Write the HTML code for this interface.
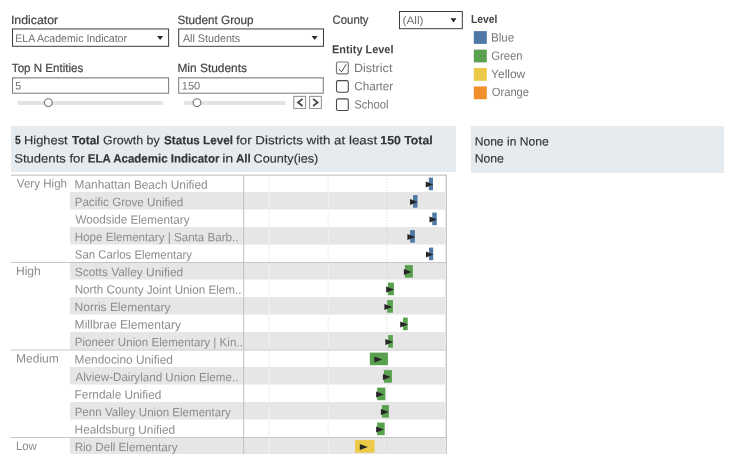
<!DOCTYPE html>
<html><head><meta charset="utf-8">
<style>
html,body{margin:0;padding:0;background:#fff;}
body{width:736px;height:454px;position:relative;overflow:hidden;font-family:"Liberation Sans",sans-serif;font-size:12px;color:#333;}
div,span,svg{position:absolute;white-space:nowrap;}
.t{left:0;top:0;transform-origin:0 0;}
.lbl{color:#444;-webkit-text-stroke:0.2px #444;}
.lblb{color:#444;font-weight:bold;}
.val{color:#6e6e6e;}
.item{color:#777;}
.title{background:#e6ebf0;}
.tt{color:#333;-webkit-text-stroke:0.15px #333;}
.b{font-weight:bold;}
.rw{color:#8c8c8c;}
</style></head><body>

<!-- filters -->
<svg style="left:0;top:0" width="736" height="120" viewBox="0 0 736 120">
<rect x="12.50" y="28.95" width="156.10" height="17.35" fill="#fff" stroke="#3c3c3c" stroke-width="1"/><path d="M157.10 35.90 L163.10 35.90 L160.10 40.00 Z" fill="#2a2a2a"/>
<rect x="178.70" y="28.95" width="144.80" height="17.35" fill="#fff" stroke="#3c3c3c" stroke-width="1"/><path d="M311.60 35.90 L317.60 35.90 L314.60 40.00 Z" fill="#2a2a2a"/>
<rect x="399.50" y="11.50" width="62.80" height="17.20" fill="#fff" stroke="#3c3c3c" stroke-width="1"/><path d="M450.50 18.30 L456.50 18.30 L453.50 22.40 Z" fill="#2a2a2a"/>
<rect x="12.5" y="77.8" width="156.1" height="15.400000000000006" fill="#fff" stroke="#7a7a7a" stroke-width="1"/><rect x="13" y="78.3" width="155.1" height="0.6" fill="#aaa" fill-opacity="0.5"/>
<rect x="178.7" y="77.8" width="144.60000000000002" height="15.400000000000006" fill="#fff" stroke="#7a7a7a" stroke-width="1"/><rect x="179.2" y="78.3" width="143.60000000000002" height="0.6" fill="#aaa" fill-opacity="0.5"/>
<rect x="17.5" y="100.9" width="145.5" height="4" rx="1" fill="#e4e4e4"/><circle cx="48.3" cy="102.6" r="3.9" fill="#fff" stroke="#6e6e6e" stroke-width="1.1"/>
<rect x="184" y="100.9" width="101.80000000000001" height="4" rx="1" fill="#e4e4e4"/><circle cx="197" cy="102.6" r="3.9" fill="#fff" stroke="#6e6e6e" stroke-width="1.1"/>
<rect x="293.8" y="96.4" width="11.800000000000011" height="12.1" fill="#fff" stroke="#999" stroke-width="1.1"/><path d="M302.6 98.9 L298.0 102.45 L302.6 106.0" fill="none" stroke="#484848" stroke-width="1.8"/>
<rect x="309.6" y="96.4" width="11.799999999999955" height="12.1" fill="#fff" stroke="#999" stroke-width="1.1"/><path d="M313.1 98.9 L317.6 102.45 L313.1 106.0" fill="none" stroke="#484848" stroke-width="1.8"/>
<rect x="336.5" y="62.0" width="11.8" height="11.799999999999997" rx="1.6" fill="#fff" stroke="#787878" stroke-width="1.2"/><path d="M338.8 69.0 L341.5 71.8 L346.2 64.4" fill="none" stroke="#444" stroke-width="1"/>
<rect x="336.5" y="80.6" width="11.8" height="11.600000000000009" rx="1.6" fill="#fff" stroke="#4a4a4a" stroke-width="1.1"/>
<rect x="336.5" y="98.9" width="11.8" height="11.599999999999994" rx="1.6" fill="#fff" stroke="#4a4a4a" stroke-width="1.1"/>
<rect x="473.8" y="31.1" width="13" height="12.8" fill="#4e79a7"/>
<rect x="473.8" y="49.6" width="13" height="12.8" fill="#59a14f"/>
<rect x="473.8" y="68.05" width="13" height="12.8" fill="#edc948"/>
<rect x="473.8" y="86.4" width="13" height="12.8" fill="#f28e2b"/>
</svg>
<!-- title boxes -->
<div class="title" style="left:11px;top:126px;width:445px;height:46px;"></div>
<div class="title" style="left:471px;top:126px;width:253px;height:46.5px;"></div>

<!-- chart -->
<svg style="left:0;top:0" width="736" height="454" viewBox="0 0 736 454">
<rect x="70" y="192.0" width="375" height="17.5" fill="#e6e6e6"/>
<rect x="70" y="227.0" width="375" height="17.5" fill="#e6e6e6"/>
<rect x="70" y="262.0" width="375" height="17.5" fill="#e6e6e6"/>
<rect x="70" y="297.0" width="375" height="17.5" fill="#e6e6e6"/>
<rect x="70" y="332.0" width="375" height="17.5" fill="#e6e6e6"/>
<rect x="70" y="367.0" width="375" height="17.5" fill="#e6e6e6"/>
<rect x="70" y="402.0" width="375" height="17.5" fill="#e6e6e6"/>
<rect x="70" y="437.0" width="375" height="17.5" fill="#e6e6e6"/>
<rect x="268.6" y="176" width="1.3" height="278" fill="#f1f1f1" fill-opacity="0.8"/>
<rect x="327.6" y="176" width="1.3" height="278" fill="#f1f1f1" fill-opacity="0.8"/>
<line x1="386.9" y1="176" x2="386.9" y2="454" stroke="#d4d4d4" stroke-width="1" stroke-dasharray="1 1.76"/>
<rect x="11" y="174.6" width="436" height="1.2" fill="#c6c6c6"/>
<rect x="11" y="262" width="436" height="1" fill="#c6c6c6"/>
<rect x="11" y="349.5" width="436" height="1" fill="#c6c6c6"/>
<rect x="11" y="437" width="436" height="1" fill="#c6c6c6"/>
<rect x="243.2" y="175" width="1" height="279" fill="#c0c0c0"/>
<rect x="445.6" y="175" width="1.4" height="279" fill="#c6c6c6"/>
<rect x="428.75" y="177.6" width="4.25" height="12.6" fill="#4e79a7"/>
<path d="M425.75 181.6 L433.25 184.6 L425.75 187.6 Z" fill="#262626"/>
<rect x="413.0" y="195.1" width="4.50" height="12.6" fill="#4e79a7"/>
<path d="M410.0 199.1 L417.75 202.1 L410.0 205.1 Z" fill="#262626"/>
<rect x="432.25" y="212.6" width="4.50" height="12.6" fill="#4e79a7"/>
<path d="M429.5 216.6 L437.0 219.6 L429.5 222.6 Z" fill="#262626"/>
<rect x="410.1" y="230.1" width="4.80" height="12.6" fill="#4e79a7"/>
<path d="M407.4 234.1 L415.2 237.1 L407.4 240.1 Z" fill="#262626"/>
<rect x="429.0" y="247.6" width="4.20" height="12.6" fill="#4e79a7"/>
<path d="M426.0 251.6 L433.5 254.6 L426.0 257.6 Z" fill="#262626"/>
<rect x="404.9" y="265.1" width="8.00" height="12.6" fill="#59a14f"/>
<path d="M403.9 269.1 L411.6 272.1 L403.9 275.1 Z" fill="#262626"/>
<rect x="387.9" y="282.6" width="6.00" height="12.6" fill="#59a14f"/>
<path d="M386.2 286.6 L394.2 289.6 L386.2 292.6 Z" fill="#262626"/>
<rect x="387.2" y="300.1" width="5.70" height="12.6" fill="#59a14f"/>
<path d="M384.4 304.1 L392.2 307.1 L384.4 310.1 Z" fill="#262626"/>
<rect x="403.0" y="317.6" width="4.75" height="12.6" fill="#59a14f"/>
<path d="M400.2 321.6 L408.0 324.6 L400.2 327.6 Z" fill="#262626"/>
<rect x="388.2" y="335.1" width="4.70" height="12.6" fill="#59a14f"/>
<path d="M385.4 339.1 L393.2 342.1 L385.4 345.1 Z" fill="#262626"/>
<rect x="369.8" y="352.6" width="18.10" height="12.6" fill="#59a14f"/>
<path d="M374.4 356.6 L382.4 359.6 L374.4 362.6 Z" fill="#262626"/>
<rect x="383.9" y="370.1" width="8.00" height="12.6" fill="#59a14f"/>
<path d="M382.9 374.1 L390.7 377.1 L382.9 380.1 Z" fill="#262626"/>
<rect x="377.1" y="387.6" width="8.30" height="12.6" fill="#59a14f"/>
<path d="M376.1 391.6 L383.9 394.6 L376.1 397.6 Z" fill="#262626"/>
<rect x="381.9" y="405.1" width="7.00" height="12.6" fill="#59a14f"/>
<path d="M380.9 409.1 L388.9 412.1 L380.9 415.1 Z" fill="#262626"/>
<rect x="377.1" y="422.6" width="7.60" height="12.6" fill="#59a14f"/>
<path d="M376.1 426.6 L383.9 429.6 L376.1 432.6 Z" fill="#262626"/>
<rect x="355.0" y="440.1" width="19.60" height="12.6" fill="#edc948"/>
<path d="M359.8 444.1 L367.8 447.1 L359.8 450.1 Z" fill="#262626"/>
</svg>
<div style="left:0;top:0;width:736px;height:454px;will-change:transform;">
<div class="t lbl" style="font-size:12px;line-height:12px;transform:translate(10.89px,13.95px) rotate(0.03deg) scaleX(1.0269)">Indicator</div>
<div class="t lbl" style="font-size:12px;line-height:12px;transform:translate(177.56px,13.95px) rotate(0.03deg) scaleX(0.9734)">Student Group</div>
<div class="t lbl" style="font-size:12px;line-height:12px;transform:translate(332.60px,13.85px) rotate(0.03deg) scaleX(0.9455)">County</div>
<div class="t lblb" style="font-size:11.5px;line-height:11.5px;transform:translate(471.06px,14.00px) rotate(0.03deg) scaleX(0.8969)">Level</div>
<div class="t lbl" style="font-size:12px;line-height:12px;transform:translate(11.84px,61.95px) rotate(0.03deg) scaleX(0.9654)">Top N Entities</div>
<div class="t lbl" style="font-size:12px;line-height:12px;transform:translate(177.39px,61.95px) rotate(0.03deg) scaleX(0.9941)">Min Students</div>
<div class="t lblb" style="font-size:11.5px;line-height:11.5px;transform:translate(332.07px,44.25px) rotate(0.03deg) scaleX(0.9516)">Entity Level</div>
<div class="t val" style="font-size:11px;line-height:11px;transform:translate(15.20px,32.90px) rotate(0.03deg) scaleX(0.9626)">ELA Academic Indicator</div>
<div class="t val" style="font-size:11px;line-height:11px;transform:translate(182.94px,32.90px) rotate(0.03deg) scaleX(0.9756)">All Students</div>
<div class="t val" style="font-size:11px;line-height:11px;transform:translate(402.53px,15.10px) rotate(0.03deg) scaleX(1.0743)">(All)</div>
<div class="t val" style="font-size:11px;line-height:11px;transform:translate(15.31px,80.60px) rotate(0.03deg) scaleX(0.9605)">5</div>
<div class="t val" style="font-size:11px;line-height:11px;transform:translate(181.84px,80.60px) rotate(0.03deg) scaleX(1.0019)">150</div>
<div class="t item" style="font-size:12px;line-height:12px;transform:translate(353.92px,62.00px) rotate(0.03deg) scaleX(1.0505)">District</div>
<div class="t item" style="font-size:12px;line-height:12px;transform:translate(354.20px,80.20px) rotate(0.03deg) scaleX(0.9742)">Charter</div>
<div class="t item" style="font-size:12px;line-height:12px;transform:translate(354.16px,98.50px) rotate(0.03deg) scaleX(0.9371)">School</div>
<div class="t item" style="font-size:12px;line-height:12px;transform:translate(491.00px,31.40px) rotate(0.03deg) scaleX(0.9668)">Blue</div>
<div class="t item" style="font-size:12px;line-height:12px;transform:translate(491.23px,49.70px) rotate(0.03deg) scaleX(0.9377)">Green</div>
<div class="t item" style="font-size:12px;line-height:12px;transform:translate(491.11px,68.10px) rotate(0.03deg) scaleX(0.9974)">Yellow</div>
<div class="t item" style="font-size:12px;line-height:12px;transform:translate(491.85px,86.40px) rotate(0.03deg) scaleX(0.9287)">Orange</div>
<div class="t tt b" style="font-size:12px;line-height:12px;transform:translate(15.01px,134.20px) rotate(0.03deg) scaleX(0.8562)">5</div>
<div class="t tt" style="font-size:12px;line-height:12px;transform:translate(24.10px,134.20px) rotate(0.03deg) scaleX(1.0703)">Highest</div>
<div class="t tt b" style="font-size:12px;line-height:12px;transform:translate(72.09px,134.20px) rotate(0.03deg) scaleX(0.9888)">Total</div>
<div class="t tt" style="font-size:12px;line-height:12px;transform:translate(103.00px,134.20px) rotate(0.03deg) scaleX(1.0360)">Growth by</div>
<div class="t tt b" style="font-size:12px;line-height:12px;transform:translate(164.00px,134.20px) rotate(0.03deg) scaleX(0.9771)">Status Level</div>
<div class="t tt" style="font-size:12px;line-height:12px;transform:translate(236.07px,134.20px) rotate(0.03deg) scaleX(1.1135)">for Districts with at least</div>
<div class="t tt b" style="font-size:12px;line-height:12px;transform:translate(380.30px,134.20px) rotate(0.03deg) scaleX(1.0236)">150 Total</div>
<div class="t tt" style="font-size:12px;line-height:12px;transform:translate(14.26px,152.50px) rotate(0.03deg) scaleX(1.0880)">Students for</div>
<div class="t tt b" style="font-size:12px;line-height:12px;transform:translate(87.82px,152.50px) rotate(0.03deg) scaleX(0.9596)">ELA Academic Indicator</div>
<div class="t tt" style="font-size:12px;line-height:12px;transform:translate(222.14px,152.50px) rotate(0.03deg) scaleX(1.2000)">in</div>
<div class="t tt b" style="font-size:12px;line-height:12px;transform:translate(236.01px,152.50px) rotate(0.03deg) scaleX(0.9646)">All</div>
<div class="t tt" style="font-size:12px;line-height:12px;transform:translate(253.50px,152.50px) rotate(0.03deg) scaleX(1.0570)">County(ies)</div>
<div class="t tt" style="font-size:12px;line-height:12px;transform:translate(474.65px,135.50px) rotate(0.03deg) scaleX(1.0097)">None in None</div>
<div class="t tt" style="font-size:12px;line-height:12px;transform:translate(474.64px,152.50px) rotate(0.03deg) scaleX(1.0201)">None</div>
<div class="t rw" style="font-size:12px;line-height:12px;transform:translate(16.81px,177.60px) rotate(0.03deg) scaleX(0.9652)">Very High</div>
<div class="t rw" style="font-size:12px;line-height:12px;transform:translate(74.63px,178.60px) rotate(0.03deg) scaleX(0.9870)">Manhattan Beach Unified</div>
<div class="t rw" style="font-size:12px;line-height:12px;transform:translate(74.64px,196.10px) rotate(0.03deg) scaleX(0.9694)">Pacific Grove Unified</div>
<div class="t rw" style="font-size:12px;line-height:12px;transform:translate(75.53px,213.60px) rotate(0.03deg) scaleX(0.9728)">Woodside Elementary</div>
<div class="t rw" style="font-size:12px;line-height:12px;transform:translate(74.65px,231.10px) rotate(0.03deg) scaleX(0.9685)">Hope Elementary | Santa Barb..</div>
<div class="t rw" style="font-size:12px;line-height:12px;transform:translate(74.80px,248.60px) rotate(0.03deg) scaleX(0.9504)">San Carlos Elementary</div>
<div class="t rw" style="font-size:12px;line-height:12px;transform:translate(15.91px,265.10px) rotate(0.03deg) scaleX(1.0073)">High</div>
<div class="t rw" style="font-size:12px;line-height:12px;transform:translate(74.77px,266.10px) rotate(0.03deg) scaleX(0.9929)">Scotts Valley Unified</div>
<div class="t rw" style="font-size:12px;line-height:12px;transform:translate(74.64px,283.60px) rotate(0.03deg) scaleX(0.9737)">North County Joint Union Elem..</div>
<div class="t rw" style="font-size:12px;line-height:12px;transform:translate(74.62px,301.10px) rotate(0.03deg) scaleX(0.9982)">Norris Elementary</div>
<div class="t rw" style="font-size:12px;line-height:12px;transform:translate(74.61px,318.60px) rotate(0.03deg) scaleX(1.0031)">Millbrae Elementary</div>
<div class="t rw" style="font-size:12px;line-height:12px;transform:translate(74.65px,336.10px) rotate(0.03deg) scaleX(0.9670)">Pioneer Union Elementary | Kin..</div>
<div class="t rw" style="font-size:12px;line-height:12px;transform:translate(15.91px,352.60px) rotate(0.03deg) scaleX(1.0057)">Medium</div>
<div class="t rw" style="font-size:12px;line-height:12px;transform:translate(74.63px,353.60px) rotate(0.03deg) scaleX(0.9883)">Mendocino Unified</div>
<div class="t rw" style="font-size:12px;line-height:12px;transform:translate(75.54px,371.10px) rotate(0.03deg) scaleX(0.9689)">Alview-Dairyland Union Eleme..</div>
<div class="t rw" style="font-size:12px;line-height:12px;transform:translate(74.63px,388.60px) rotate(0.03deg) scaleX(0.9841)">Ferndale Unified</div>
<div class="t rw" style="font-size:12px;line-height:12px;transform:translate(74.65px,406.10px) rotate(0.03deg) scaleX(0.9651)">Penn Valley Union Elementary</div>
<div class="t rw" style="font-size:12px;line-height:12px;transform:translate(74.63px,423.60px) rotate(0.03deg) scaleX(0.9839)">Healdsburg Unified</div>
<div class="t rw" style="font-size:12px;line-height:12px;transform:translate(15.97px,440.10px) rotate(0.03deg) scaleX(0.9441)">Low</div>
<div class="t rw" style="font-size:12px;line-height:12px;transform:translate(74.64px,441.10px) rotate(0.03deg) scaleX(0.9698)">Rio Dell Elementary</div>
</div>
</body></html>
